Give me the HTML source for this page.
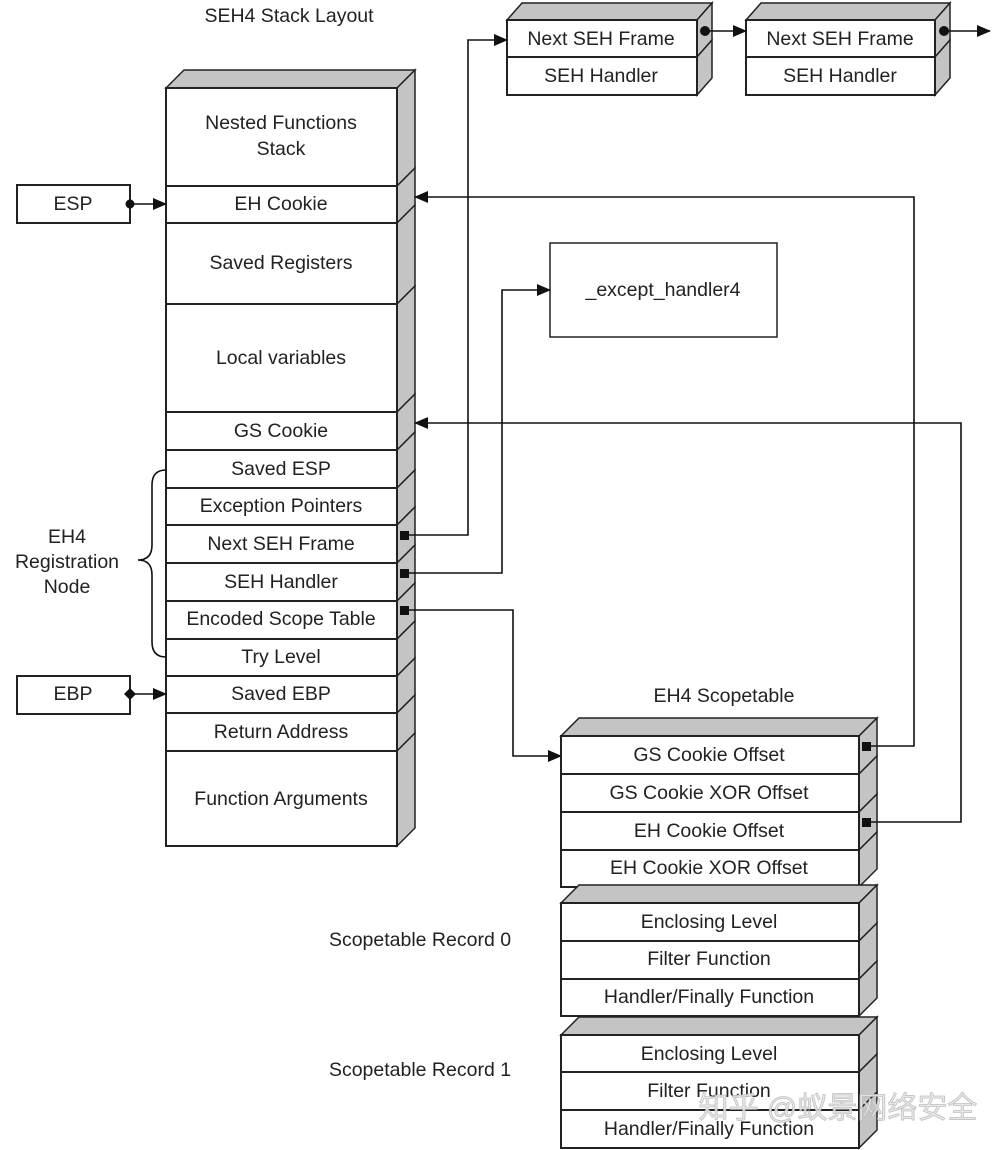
<!DOCTYPE html>
<html><head><meta charset="utf-8"><style>
html,body{margin:0;padding:0;background:#fff;}
svg{display:block}
text{font-family:"Liberation Sans","Noto Sans CJK SC",sans-serif;font-size:19.5px;fill:#222;text-anchor:middle;}
.f{fill:#fff;stroke:#222;stroke-width:2}
.s{fill:#c4c4c4;stroke:#222;stroke-width:1.5}
.l{fill:none;stroke:#111;stroke-width:1.6}
</style></head><body>
<svg width="1000" height="1150" viewBox="0 0 1000 1150" xmlns="http://www.w3.org/2000/svg">
<defs><marker id="a" markerWidth="14" markerHeight="12" refX="13" refY="6" orient="auto" markerUnits="userSpaceOnUse"><path d="M0,0 L14,6 L0,12z" fill="#111"/></marker></defs>

<text x="289" y="22">SEH4 Stack Layout</text>
<polygon class="s" points="166,88 184,70 415,70 397,88"/>
<g class="s">
<polygon points="397,88 415,70 415,168 397,186"/>
<polygon points="397,186 415,168 415,205 397,223"/>
<polygon points="397,223 415,205 415,286 397,304"/>
<polygon points="397,304 415,286 415,394 397,412"/>
<polygon points="397,412 415,394 415,432 397,450"/>
<polygon points="397,450 415,432 415,470 397,488"/>
<polygon points="397,488 415,470 415,507 397,525"/>
<polygon points="397,525 415,507 415,545 397,563"/>
<polygon points="397,563 415,545 415,583 397,601"/>
<polygon points="397,601 415,583 415,621 397,639"/>
<polygon points="397,639 415,621 415,658 397,676"/>
<polygon points="397,676 415,658 415,695 397,713"/>
<polygon points="397,713 415,695 415,733 397,751"/>
<polygon points="397,751 415,733 415,828 397,846"/>
</g>
<g class="f">
<rect x="166" y="88" width="231" height="98"/>
<rect x="166" y="186" width="231" height="37"/>
<rect x="166" y="223" width="231" height="81"/>
<rect x="166" y="304" width="231" height="108"/>
<rect x="166" y="412" width="231" height="38"/>
<rect x="166" y="450" width="231" height="38"/>
<rect x="166" y="488" width="231" height="37"/>
<rect x="166" y="525" width="231" height="38"/>
<rect x="166" y="563" width="231" height="38"/>
<rect x="166" y="601" width="231" height="38"/>
<rect x="166" y="639" width="231" height="37"/>
<rect x="166" y="676" width="231" height="37"/>
<rect x="166" y="713" width="231" height="38"/>
<rect x="166" y="751" width="231" height="95"/>
</g>
<text x="281" y="129">Nested Functions</text>
<text x="281" y="155">Stack</text>
<text x="281" y="210">EH Cookie</text>
<text x="281" y="269">Saved Registers</text>
<text x="281" y="364">Local variables</text>
<text x="281" y="437">GS Cookie</text>
<text x="281" y="475">Saved ESP</text>
<text x="281" y="512">Exception Pointers</text>
<text x="281" y="550">Next SEH Frame</text>
<text x="281" y="588">SEH Handler</text>
<text x="281" y="625">Encoded Scope Table</text>
<text x="281" y="663">Try Level</text>
<text x="281" y="700">Saved EBP</text>
<text x="281" y="738">Return Address</text>
<text x="281" y="805">Function Arguments</text>

<rect class="f" x="17" y="185" width="113" height="38"/>
<text x="73" y="210">ESP</text>
<rect class="f" x="17" y="676" width="113" height="38"/>
<text x="73" y="700">EBP</text>
<line class="l" x1="130" y1="204" x2="166" y2="204" marker-end="url(#a)"/>
<circle cx="130" cy="204" r="4.5" fill="#111"/>
<line class="l" x1="130" y1="694" x2="166" y2="694" marker-end="url(#a)"/>
<path d="M124,694 L130,688 L136,694 L130,700z" fill="#111"/>

<path class="l" d="M166,470 Q152,470 152,485 L152,545 Q152,560 138,560 Q152,560 152,575 L152,642 Q152,657 166,657"/>
<text x="67" y="543">EH4</text>
<text x="67" y="568">Registration</text>
<text x="67" y="593">Node</text>

<g>
<polygon class="s" points="507,20 522,3 712,3 697,20"/>
<polygon class="s" points="697,20 712,3 712,40 697,57"/>
<polygon class="s" points="697,57 712,40 712,78 697,95"/>
<rect class="f" x="507" y="20" width="190" height="37"/>
<rect class="f" x="507" y="57" width="190" height="38"/>
<text x="601" y="45">Next SEH Frame</text>
<text x="601" y="82">SEH Handler</text>
<polygon class="s" points="746,20 761,3 950,3 935,20"/>
<polygon class="s" points="935,20 950,3 950,40 935,57"/>
<polygon class="s" points="935,57 950,40 950,78 935,95"/>
<rect class="f" x="746" y="20" width="189" height="37"/>
<rect class="f" x="746" y="57" width="189" height="38"/>
<text x="840" y="45">Next SEH Frame</text>
<text x="840" y="82">SEH Handler</text>
</g>
<circle cx="705" cy="31" r="5" fill="#111"/>
<line class="l" x1="705" y1="31" x2="746" y2="31" marker-end="url(#a)"/>
<circle cx="944" cy="31" r="5" fill="#111"/>
<line class="l" x1="944" y1="31" x2="990" y2="31" marker-end="url(#a)"/>

<rect x="550" y="243" width="227" height="94" fill="#fff" stroke="#222" stroke-width="1.5"/>
<text x="663" y="296">_except_handler4</text>

<rect x="400" y="531" width="9" height="9" fill="#111"/>
<rect x="400" y="569" width="9" height="9" fill="#111"/>
<rect x="400" y="606" width="9" height="9" fill="#111"/>
<polyline class="l" points="409,535 468,535 468,40 507,40" marker-end="url(#a)"/>
<polyline class="l" points="409,573 502,573 502,290 550,290" marker-end="url(#a)"/>
<polyline class="l" points="409,610 513,610 513,756 561,756" marker-end="url(#a)"/>

<text x="724" y="702">EH4 Scopetable</text>
<text x="420" y="946">Scopetable Record 0</text>
<text x="420" y="1076">Scopetable Record 1</text>
<g>
<polygon class="s" points="561,736 579,718 877,718 859,736"/>
<polygon class="s" points="859,736 877,718 877,756 859,774"/>
<polygon class="s" points="859,774 877,756 877,794 859,812"/>
<polygon class="s" points="859,812 877,794 877,832 859,850"/>
<polygon class="s" points="859,850 877,832 877,869 859,887"/>
<rect class="f" x="561" y="736" width="298" height="38"/>
<rect class="f" x="561" y="774" width="298" height="38"/>
<rect class="f" x="561" y="812" width="298" height="38"/>
<rect class="f" x="561" y="850" width="298" height="37"/>
<text x="709" y="761">GS Cookie Offset</text>
<text x="709" y="799">GS Cookie XOR Offset</text>
<text x="709" y="837">EH Cookie Offset</text>
<text x="709" y="874">EH Cookie XOR Offset</text>

<polygon class="s" points="561,903 579,885 877,885 859,903"/>
<polygon class="s" points="859,903 877,885 877,923 859,941"/>
<polygon class="s" points="859,941 877,923 877,961 859,979"/>
<polygon class="s" points="859,979 877,961 877,998 859,1016"/>
<rect class="f" x="561" y="903" width="298" height="38"/>
<rect class="f" x="561" y="941" width="298" height="38"/>
<rect class="f" x="561" y="979" width="298" height="37"/>
<text x="709" y="928">Enclosing Level</text>
<text x="709" y="965">Filter Function</text>
<text x="709" y="1003">Handler/Finally Function</text>

<polygon class="s" points="561,1035 579,1017 877,1017 859,1035"/>
<polygon class="s" points="859,1035 877,1017 877,1054 859,1072"/>
<polygon class="s" points="859,1072 877,1054 877,1092 859,1110"/>
<polygon class="s" points="859,1110 877,1092 877,1130 859,1148"/>
<rect class="f" x="561" y="1035" width="298" height="37"/>
<rect class="f" x="561" y="1072" width="298" height="38"/>
<rect class="f" x="561" y="1110" width="298" height="38"/>
<text x="709" y="1060">Enclosing Level</text>
<text x="709" y="1097">Filter Function</text>
<text x="709" y="1135">Handler/Finally Function</text>
</g>
<rect x="862" y="742" width="9" height="9" fill="#111"/>
<rect x="862" y="818" width="9" height="9" fill="#111"/>
<polyline class="l" points="871,746 914,746 914,197 415,197" marker-end="url(#a)"/>
<polyline class="l" points="871,822 961,822 961,423 415,423" marker-end="url(#a)"/>

<text x="838" y="1118" style="font-size:30px;fill:#e6e6e6;stroke:#bbb;stroke-width:0.8;opacity:0.9">知乎 @蚁景网络安全</text>
</svg>
</body></html>
